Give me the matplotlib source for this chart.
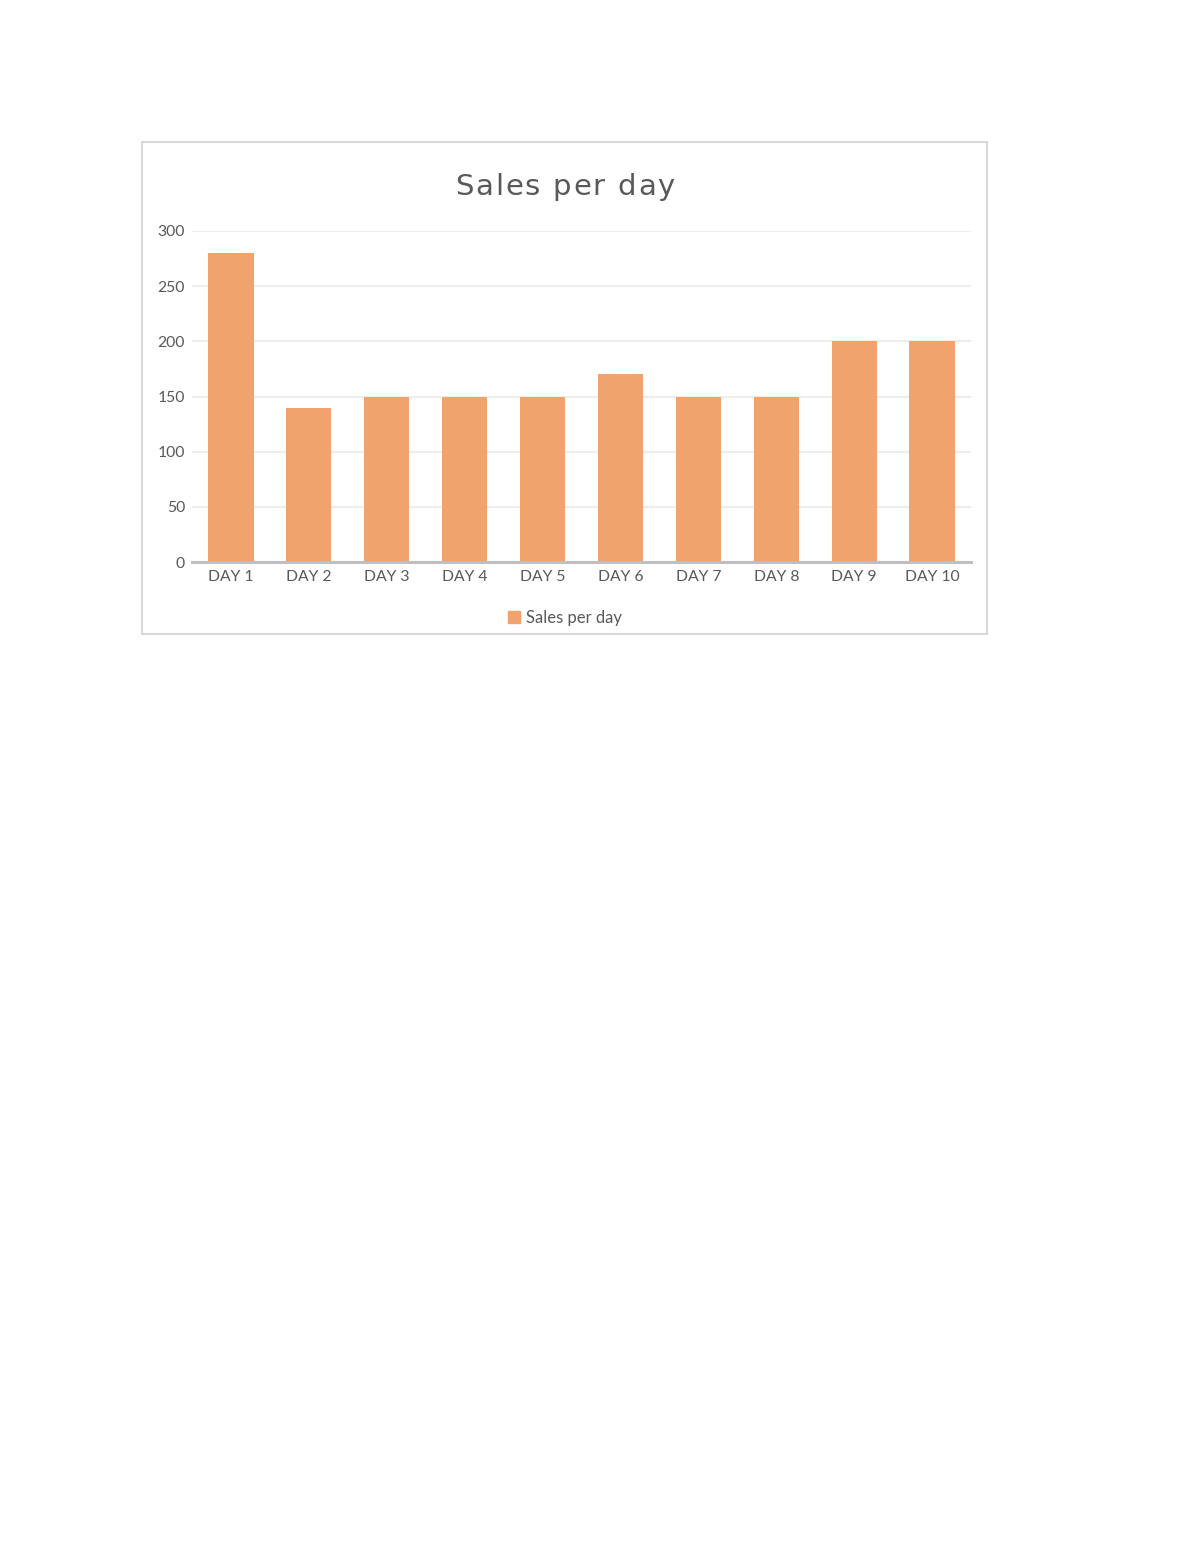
import matplotlib.pyplot as plt
from matplotlib.patches import Rectangle, Patch

days = ["DAY 1", "DAY 2", "DAY 3", "DAY 4", "DAY 5",
        "DAY 6", "DAY 7", "DAY 8", "DAY 9", "DAY 10"]
sales = [280, 140, 150, 150, 150, 170, 150, 150, 200, 200]
yticks = [0, 50, 100, 150, 200, 250, 300]
title = "Sales per day"

bar_color = "#F0A36D"
text_color = "#595959"

W, H = 1200, 1553
fig = plt.figure(figsize=(12, 15.53), dpi=100)
fig.patch.set_facecolor("white")

# chart frame
fig.patches.append(Rectangle((142 / W, 1 - 634 / H), 845 / W, 492 / H,
                             transform=fig.transFigure, fill=False,
                             edgecolor="#D9D9D9", linewidth=1.5))

ax = fig.add_axes([192 / W, 1 - 562 / H, 779 / W, 331 / H])
x = range(len(days))
ax.bar(x, sales, width=0.58, color=bar_color, zorder=2)
ax.set_xlim(-0.5, len(days) - 0.5)
ax.set_ylim(0, 300)
ax.set_yticks(yticks)
ax.set_xticks(list(x))
ax.set_xticklabels(days)
for s in ["top", "right", "left"]:
    ax.spines[s].set_visible(False)
ax.spines["bottom"].set_color("#BFBFBF")
ax.spines["bottom"].set_linewidth(2.2)
ax.spines["bottom"].set_zorder(3)
ax.grid(axis="y", color="#EEEEEE", linewidth=1.5, zorder=0)
ax.tick_params(axis="both", length=0, labelsize=11.3, labelcolor=text_color)
ax.tick_params(axis="y", pad=5)
ax.tick_params(axis="x", pad=6)
for lab in ax.get_xticklabels() + ax.get_yticklabels():
    lab.set_family("Lato")

# title with a little letter spacing, drawn char by char
renderer = fig.canvas.get_renderer()
tsize = 21
spacing = 1.8  # extra px between letters
pieces = []
for ch in title:
    t = fig.text(0, 0, "a" if ch == " " else ch, fontsize=tsize,
                 family="DejaVu Sans")
    w = t.get_window_extent(renderer).width
    t.remove()
    pieces.append(w * 0.52 if ch == " " else w)
total = sum(pieces) + spacing * (len(pieces) - 1)
xpos = 565 - total / 2
for ch, w in zip(title, pieces):
    if ch != " ":
        fig.text(xpos / W, 1 - 195 / H, ch, ha="left", va="baseline",
                 fontsize=tsize, color=text_color, family="DejaVu Sans")
    xpos += w + spacing

fig.legend(handles=[Patch(color=bar_color, label="Sales per day")],
           loc="center", bbox_to_anchor=(565 / W, 1 - 618 / H),
           frameon=False, prop={"family": "Lato", "size": 12},
           labelcolor=text_color, handlelength=0.7, handleheight=0.7,
           handletextpad=0.4)

fig.savefig("out.png", dpi=100, facecolor="white")
